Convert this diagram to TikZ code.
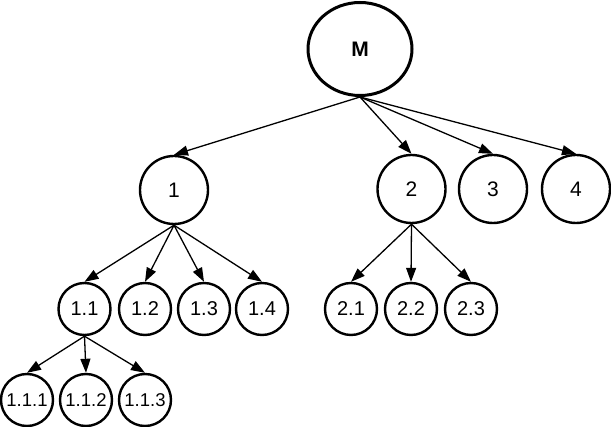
\documentclass[tikz,border=0pt]{standalone}
\usepackage{fontspec}
\setmainfont{Liberation Sans}
\usetikzlibrary{arrows.meta,shapes.geometric}
\begin{document}
\begin{tikzpicture}[x=1pt,y=-1pt,
  nd/.style={draw=black,circle,line width=2.4pt,inner sep=0pt},
  big/.style={nd,minimum size=68pt,font=\fontsize{21}{21}\selectfont},
  mid/.style={nd,minimum size=52pt,font=\fontsize{20}{20}\selectfont},
  small/.style={nd,minimum size=52pt,font=\fontsize{18.5}{18.5}\selectfont},
  edge/.style={line width=1.3pt,-{Triangle[length=14pt,width=10pt]}}]
\useasboundingbox (0,0) rectangle (611,427);
\node[draw=black,ellipse,line width=3pt,minimum width=104pt,minimum height=93pt,inner sep=0pt,font=\bfseries\fontsize{21}{21}\selectfont] (M) at (360,49) {M};
\node[big] (n1) at (174,190) {1};
\node[big] (n2) at (411.5,189) {2};
\node[big] (n3) at (493,189) {3};
\node[big] (n4) at (576,189) {4};
\node[mid] (n11) at (84.5,309) {1.1};
\node[mid] (n12) at (145,309) {1.2};
\node[mid] (n13) at (204,309) {1.3};
\node[mid] (n14) at (262,309) {1.4};
\node[mid] (n21) at (351,309) {2.1};
\node[mid] (n22) at (411,309) {2.2};
\node[mid] (n23) at (471,309) {2.3};
\node[small] (n111) at (27,400) {1.1.1};
\node[small] (n112) at (86,400) {1.1.2};
\node[small] (n113) at (145,400) {1.1.3};
\foreach \c in {n1,n2,n3,n4} \draw[edge] (M.south) -- (\c.north);
\foreach \c in {n11,n12,n13,n14} \draw[edge] (n1.south) -- (\c.north);
\foreach \c in {n21,n22,n23} \draw[edge] (n2.south) -- (\c.north);
\foreach \c in {n111,n112,n113} \draw[edge] (n11.south) -- (\c.north);
\end{tikzpicture}
\end{document}
